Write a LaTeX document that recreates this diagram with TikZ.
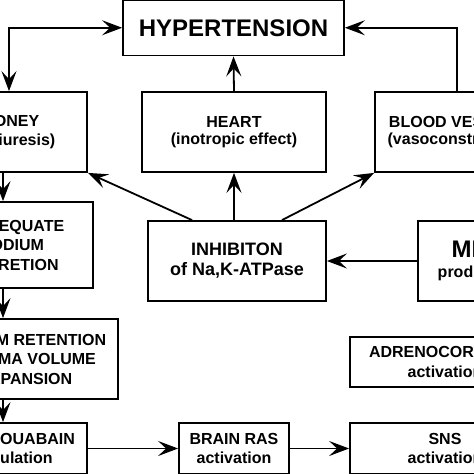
\documentclass[tikz,border=0pt]{standalone}
\usepackage{fontspec}
\setmainfont{Liberation Sans}
\usetikzlibrary{arrows.meta,calc}

\tikzset{
  box/.style={draw, line width=1.8pt, align=center, inner sep=0pt,
    font=\bfseries\fontsize{16}{19.5}\selectfont},
  arr/.style={line width=1.8pt, -{Stealth[length=20pt,width=15pt,inset=8pt]}},
  twoarr/.style={line width=1.8pt, {Stealth[length=20pt,width=15pt,inset=8pt]}-{Stealth[length=20pt,width=15pt,inset=8pt]}},
}

\begin{document}
\begin{tikzpicture}[x=1pt, y=-1pt]
          % Define the frame of the picture
          \useasboundingbox (0,0) rectangle (474,474);
          \clip (0,0) rectangle (474,474);
          \coordinate (lx) at (3,0);

          % Top row
          \node[box, minimum width=221pt, minimum height=55.5pt,
            font=\bfseries\fontsize{24}{28}\selectfont] (hyper) at (233.5,27.75) {HYPERTENSION};
          \node[box, minimum width=156pt, minimum height=80pt] (kidney) at (9,132) {KIDNEY\\(natriuresis)};
          \node[box, minimum width=184pt, minimum height=80pt,
            font=\bfseries\fontsize{16}{17.5}\selectfont] (heart) at (234,132) {HEART\\(inotropic effect)};
          \node[box, minimum width=164pt, minimum height=80pt,
            font=\bfseries\fontsize{16}{17.5}\selectfont] (vessel) at (457,132) {BLOOD VESSELS\\(vasoconstriction)};

          % Middle row
          \node[box, minimum width=162pt, minimum height=86pt] (inadequate) at (12,245) {INADEQUATE\\SODIUM\\EXCRETION};
          \node[box, minimum width=178pt, minimum height=80pt,
            font=\bfseries\fontsize{18}{20}\selectfont] (inhib) at (237,261) {INHIBITON\\of Na,K-ATPase};
          \node[box, minimum width=123pt, minimum height=80pt,
            font=\bfseries\fontsize{16}{20}\selectfont] (mbg) at (479.5,261) {{\fontsize{24}{26}\selectfont MBG}\\production};
          \node[box, minimum width=184.6pt, minimum height=80pt] (sodium) at (25.7,359) {SODIUM RETENTION\\PLASMA VOLUME\\EXPANSION};
          \node[box, minimum width=190pt, minimum height=50pt] (adreno) at (445,362) {ADRENOCORTICAL\\activation};

          % Bottom row
          \node[box, minimum width=154pt, minimum height=51pt] (ouabain) at (10,448.5) {BRAIN OUABAIN\\stimulation};
          \node[box, minimum width=110pt, minimum height=51pt] (brain) at (234,448.5) {BRAIN RAS\\activation};
          \node[box, minimum width=190pt, minimum height=51pt] (sns) at (445,448.5) {SNS\\activation};

          % Arrows to hypertension
          \draw[twoarr] (kidney.north) |- (hyper.west);
          \draw[arr] (vessel.north) |- (hyper.east);
          \draw[arr] (heart.north) -- (hyper.south);

          % Arrows from the inhibition
          \draw[arr] ($(inhib.north west)!0.25!(inhib.north east)$) -- (kidney.south east);
          \draw[arr] (inhib.north -| heart.north) -- (heart.south);
          \draw[arr] ($(inhib.north west)!0.75!(inhib.north east)$) -- (vessel.south west);
          \draw[arr] (mbg.west) -- (inhib.east);

          % Left column and bottom row
          \draw[arr] (kidney.south -| lx) -- (inadequate.north -| lx);
          \draw[arr] (inadequate.south -| lx) -- (sodium.north -| lx);
          \draw[arr] (sodium.south -| lx) -- (ouabain.north -| lx);
          \draw[arr] (ouabain.east) -- (brain.west);
          \draw[arr] (brain.east) -- (sns.west);
        \end{tikzpicture}
\end{document}
